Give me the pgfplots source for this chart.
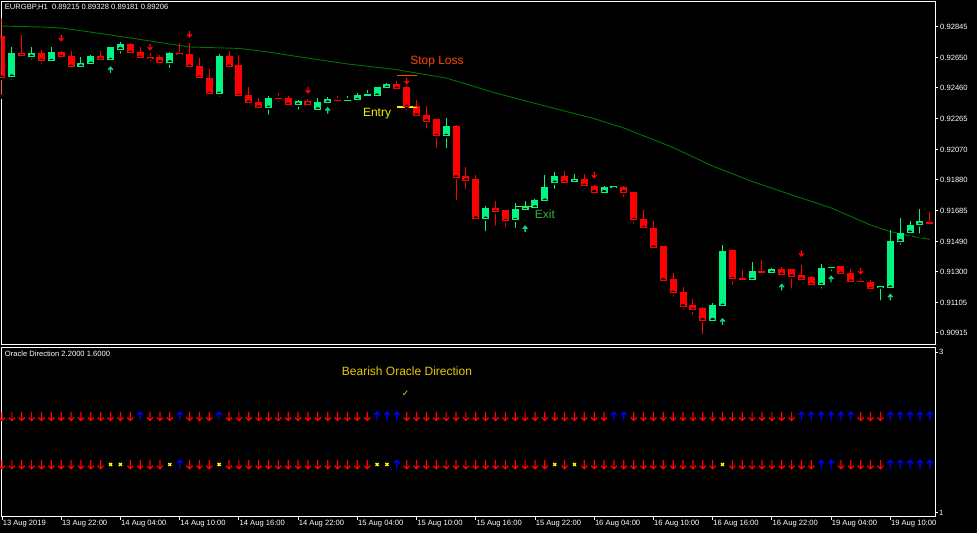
\documentclass[border=0pt]{standalone}
\usepackage{fontspec}
\setmainfont{Liberation Sans}
\newfontfamily\dejavu{DejaVu Sans}
\usepackage{pgfplots}
\usepackage{pgfplotstable}
\pgfplotsset{compat=1.18}

\definecolor{cgreen}{RGB}{0,245,130}
\definecolor{cred}{RGB}{255,0,0}
\definecolor{cma}{RGB}{0,115,0}
\definecolor{cupar}{RGB}{20,215,135}
\definecolor{cstop}{RGB}{255,69,0}
\definecolor{centry}{RGB}{245,240,0}
\definecolor{cexit}{RGB}{55,180,55}
\definecolor{cexitl}{RGB}{80,230,80}
\definecolor{cbear}{RGB}{230,200,0}
\definecolor{cblue}{RGB}{0,0,255}
\definecolor{cyel}{RGB}{255,255,0}

\pgfdeclareplotmark{tdn}{%
 \pgfsetlinewidth{1.3pt}%
 \pgfpathmoveto{\pgfqpoint{0pt}{3pt}}\pgfpathlineto{\pgfqpoint{0pt}{-2.6pt}}%
 \pgfpathmoveto{\pgfqpoint{-2.3pt}{-0.2pt}}\pgfpathlineto{\pgfqpoint{0pt}{-2.8pt}}\pgfpathlineto{\pgfqpoint{2.3pt}{-0.2pt}}%
 \pgfusepathqstroke}
\pgfdeclareplotmark{tup}{%
 \pgfsetlinewidth{1.3pt}%
 \pgfpathmoveto{\pgfqpoint{0pt}{-3pt}}\pgfpathlineto{\pgfqpoint{0pt}{2.6pt}}%
 \pgfpathmoveto{\pgfqpoint{-2.3pt}{0.2pt}}\pgfpathlineto{\pgfqpoint{0pt}{2.8pt}}\pgfpathlineto{\pgfqpoint{2.3pt}{0.2pt}}%
 \pgfusepathqstroke}
\pgfdeclareplotmark{ldn}{%
 \pgfsetlinewidth{1.2pt}%
 \pgfpathmoveto{\pgfqpoint{0pt}{4.3pt}}\pgfpathlineto{\pgfqpoint{0pt}{-4.1pt}}%
 \pgfpathmoveto{\pgfqpoint{-3pt}{-1.2pt}}\pgfpathlineto{\pgfqpoint{0pt}{-4.3pt}}\pgfpathlineto{\pgfqpoint{3pt}{-1.2pt}}%
 \pgfusepathqstroke}
\pgfdeclareplotmark{lup}{%
 \pgfsetlinewidth{1.2pt}%
 \pgfpathmoveto{\pgfqpoint{0pt}{-4.3pt}}\pgfpathlineto{\pgfqpoint{0pt}{4.1pt}}%
 \pgfpathmoveto{\pgfqpoint{-3pt}{1.2pt}}\pgfpathlineto{\pgfqpoint{0pt}{4.3pt}}\pgfpathlineto{\pgfqpoint{3pt}{1.2pt}}%
 \pgfusepathqstroke}

% red (bearish) candles: bar index, open, high, low, close
\pgfplotstableread{
x o h l c
0 0.92786 0.92900 0.92402 0.92523
2 0.92679 0.92793 0.92652 0.92662
4 0.92679 0.92698 0.92593 0.92631
6 0.92685 0.92692 0.92649 0.92654
7 0.92654 0.92694 0.92591 0.92593
10 0.92654 0.92692 0.92633 0.92637
13 0.92730 0.92740 0.92665 0.92681
14 0.92684 0.92715 0.92624 0.92649
15 0.92650 0.92677 0.92614 0.92649
16 0.92649 0.92667 0.92593 0.92622
18 0.92674 0.92740 0.92665 0.92673
19 0.92671 0.92744 0.92580 0.92593
20 0.92593 0.92649 0.92503 0.92523
21 0.92520 0.92578 0.92414 0.92422
23 0.92654 0.92692 0.92572 0.92593
24 0.92599 0.92665 0.92400 0.92408
25 0.92410 0.92467 0.92362 0.92366
26 0.92370 0.92393 0.92309 0.92337
28 0.92394 0.92425 0.92359 0.92393
29 0.92389 0.92410 0.92337 0.92353
31 0.92372 0.92387 0.92340 0.92356
34 0.92382 0.92406 0.92366 0.92381
40 0.92479 0.92501 0.92452 0.92454
41 0.92460 0.92471 0.92303 0.92340
42 0.92340 0.92383 0.92261 0.92286
43 0.92288 0.92347 0.92189 0.92250
44 0.92257 0.92261 0.92067 0.92156
46 0.92216 0.92225 0.91739 0.91895
47 0.91901 0.91962 0.91809 0.91878
48 0.91880 0.91910 0.91615 0.91637
50 0.91697 0.91748 0.91577 0.91678
51 0.91683 0.91683 0.91567 0.91620
57 0.91899 0.91935 0.91853 0.91861
59 0.91880 0.91916 0.91811 0.91842
60 0.91840 0.91847 0.91801 0.91802
63 0.91832 0.91840 0.91758 0.91801
64 0.91802 0.91802 0.91588 0.91626
65 0.91632 0.91689 0.91556 0.91577
66 0.91575 0.91620 0.91432 0.91454
67 0.91456 0.91456 0.91241 0.91247
68 0.91252 0.91290 0.91128 0.91167
69 0.91170 0.91203 0.91048 0.91083
70 0.91088 0.91128 0.91016 0.91060
71 0.91065 0.91079 0.90894 0.90995
74 0.91435 0.91437 0.91205 0.91254
75 0.91260 0.91311 0.91230 0.91249
77 0.91302 0.91374 0.91290 0.91293
79 0.91313 0.91328 0.91268 0.91281
80 0.91313 0.91313 0.91180 0.91271
81 0.91273 0.91342 0.91247 0.91249
82 0.91262 0.91273 0.91199 0.91216
85 0.91331 0.91336 0.91264 0.91287
86 0.91290 0.91315 0.91230 0.91237
87 0.91238 0.91258 0.91210 0.91237
88 0.91230 0.91247 0.91159 0.91191
94 0.91613 0.91676 0.91577 0.91605
}\redc

% green (bullish) candles
\pgfplotstableread{
x o h l c
1 0.92530 0.92715 0.92498 0.92679
3 0.92656 0.92715 0.92624 0.92679
5 0.92629 0.92715 0.92618 0.92685
8 0.92593 0.92654 0.92591 0.92616
9 0.92612 0.92665 0.92608 0.92654
11 0.92635 0.92715 0.92614 0.92713
12 0.92704 0.92749 0.92662 0.92730
17 0.92620 0.92685 0.92572 0.92679
22 0.92422 0.92673 0.92391 0.92654
27 0.92334 0.92408 0.92277 0.92389
30 0.92353 0.92383 0.92309 0.92372
32 0.92324 0.92393 0.92315 0.92368
33 0.92366 0.92400 0.92357 0.92387
35 0.92381 0.92406 0.92366 0.92382
36 0.92383 0.92427 0.92368 0.92408
37 0.92414 0.92446 0.92393 0.92415
38 0.92410 0.92463 0.92408 0.92460
39 0.92460 0.92488 0.92441 0.92479
45 0.92156 0.92267 0.92067 0.92217
49 0.91634 0.91714 0.91542 0.91700
52 0.91626 0.91735 0.91563 0.91689
53 0.91689 0.91746 0.91668 0.91706
54 0.91706 0.91758 0.91700 0.91748
55 0.91748 0.91910 0.91741 0.91830
56 0.91861 0.91930 0.91809 0.91901
58 0.91866 0.91916 0.91857 0.91880
61 0.91802 0.91840 0.91790 0.91832
62 0.91835 0.91840 0.91811 0.91836
72 0.90995 0.91100 0.90984 0.91088
73 0.91085 0.91468 0.91075 0.91430
76 0.91249 0.91361 0.91247 0.91302
78 0.91292 0.91323 0.91268 0.91313
83 0.91216 0.91348 0.91180 0.91323
84 0.91327 0.91336 0.91290 0.91328
89 0.91205 0.91206 0.91107 0.91206
90 0.91199 0.91563 0.91199 0.91493
91 0.91493 0.91637 0.91457 0.91542
92 0.91546 0.91621 0.91517 0.91594
93 0.91596 0.91695 0.91527 0.91618
}\greenc

% Oracle Direction states: 0 = down (red), 1 = up (blue), 2 = neutral (yellow x)
\pgfplotstableread{
i top bot
0 0 0
1 0 0
2 0 0
3 0 0
4 0 0
5 0 0
6 0 0
7 0 0
8 0 0
9 0 0
10 0 0
11 0 2
12 0 2
13 0 0
14 1 0
15 0 0
16 0 0
17 0 2
18 1 1
19 0 0
20 0 0
21 0 0
22 1 2
23 0 0
24 0 0
25 0 0
26 0 0
27 0 0
28 0 0
29 0 0
30 0 0
31 0 0
32 0 0
33 0 0
34 0 0
35 0 0
36 0 0
37 0 0
38 1 2
39 1 2
40 1 1
41 0 0
42 0 0
43 0 0
44 0 0
45 0 0
46 0 0
47 0 0
48 0 0
49 0 0
50 0 0
51 0 0
52 0 0
53 0 0
54 0 0
55 0 0
56 0 2
57 0 0
58 0 2
59 0 0
60 0 0
61 0 0
62 1 0
63 1 0
64 0 0
65 0 0
66 0 0
67 0 0
68 0 0
69 0 0
70 0 0
71 0 0
72 0 0
73 0 2
74 0 0
75 0 0
76 0 0
77 0 0
78 0 0
79 0 0
80 0 0
81 1 0
82 1 0
83 1 1
84 1 1
85 1 0
86 1 0
87 0 0
88 0 0
89 0 0
90 1 1
91 1 1
92 1 1
93 1 1
94 1 1
}\oracle

\begin{document}
\begin{tikzpicture}[x=1pt,y=1pt]
\fill[black] (0,0) rectangle (977,533);

\begin{axis}[
  at={(1.5pt,188pt)}, anchor=south west, scale only axis,
  width=933.8pt, height=343.5pt,
  xmin=-0.05, xmax=94.56, ymin=0.908375, ymax=0.930039,
  axis line style={white, line width=1pt},
  xtick=\empty,
  ytick={0.90915,0.91105,0.91300,0.91490,0.91685,0.91880,0.92070,0.92265,0.92460,0.92650,0.92845},
  yticklabels={0.90915,0.91105,0.91300,0.91490,0.91685,0.91880,0.92070,0.92265,0.92460,0.92650,0.92845},
  ytick pos=right, yticklabel pos=right, tick align=outside, major tick length=3pt,
  tick style={white, line width=0.8pt},
  yticklabel style={font=\fontsize{7.6}{8}\selectfont, text=white, anchor=west, inner sep=0pt, xshift=1.7pt},
]
% moving average
\addplot[cma, line width=0.9pt] coordinates {
(0,0.92849)(4,0.92843)(6,0.92837)(10,0.92802)(15,0.92755)(19,0.92717)(24,0.92708)
(27,0.92685)(30,0.92656)(35,0.92610)(40,0.92574)(45,0.92521)(50,0.92427)(55,0.92345)
(60,0.92265)(63,0.92206)(68,0.92083)(72,0.91966)(76,0.91869)(80,0.91784)(84,0.91702)
(88,0.91594)(90,0.91553)(92,0.91525)(94,0.91504)};
% wicks
\addplot[only marks, mark=none, error bars/.cd, y dir=plus, y explicit, error mark=none,
  error bar style={draw=cred, line width=1pt}]
  table[x=x, y=l, y error plus expr=\thisrow{h}-\thisrow{l}] {\redc};
\addplot[only marks, mark=none, error bars/.cd, y dir=plus, y explicit, error mark=none,
  error bar style={draw=cgreen, line width=1pt}]
  table[x=x, y=l, y error plus expr=\thisrow{h}-\thisrow{l}] {\greenc};
% bodies
\addplot[only marks, mark=none, error bars/.cd, y dir=plus, y explicit, error mark=none,
  error bar style={draw=cred, line width=7pt}]
  table[x=x, y=c, y error plus expr=\thisrow{o}-\thisrow{c}] {\redc};
\addplot[only marks, mark=none, error bars/.cd, y dir=plus, y explicit, error mark=none,
  error bar style={draw=cgreen, line width=7pt}]
  table[x=x, y=o, y error plus expr=\thisrow{c}-\thisrow{o}] {\greenc};
% open/close edges (visible for doji)
\addplot[only marks, mark=-, mark size=3.5pt, cred, mark options={line width=1pt}] table[x=x, y=o] {\redc};
\addplot[only marks, mark=-, mark size=3.5pt, cred, mark options={line width=1pt}] table[x=x, y=c] {\redc};
\addplot[only marks, mark=-, mark size=3.5pt, cgreen, mark options={line width=1pt}] table[x=x, y=o] {\greenc};
\addplot[only marks, mark=-, mark size=3.5pt, cgreen, mark options={line width=1pt}] table[x=x, y=c] {\greenc};
% signal arrows
\addplot[only marks, mark=tdn, cred] coordinates {
(6,0.92774)(15,0.92717)(19,0.92799)(31,0.92446)(41,0.92504)(60,0.91910)(81,0.91416)(87,0.91304)};
\addplot[only marks, mark=tup, cupar] coordinates {
(11,0.92572)(33,0.92315)(53,0.91569)(73,0.90984)(79,0.91201)(84,0.91252)(90,0.91138)};
% trade levels
\addplot[cstop, line width=1.6pt] coordinates {(39.99,0.92536)(42.05,0.92536)};
\addplot[centry, line width=1.6pt] coordinates {(39.99,0.92340)(42.05,0.92340)};
\addplot[cexitl, line width=1.6pt] coordinates {(52.05,0.91710)(54.1,0.91710)};
\node[text=cstop, font=\fontsize{12}{14}\selectfont] at (axis cs:44.07,0.92624) {Stop Loss};
\node[text=centry, font=\fontsize{12}{14}\selectfont] at (axis cs:38.0,0.92299) {Entry};
\node[text=cexit, font=\fontsize{12}{14}\selectfont] at (axis cs:55.0,0.91662) {Exit};
\end{axis}

\begin{axis}[
  at={(1.5pt,16.3pt)}, anchor=south west, scale only axis,
  width=933.8pt, height=169.7pt,
  xmin=-0.05, xmax=94.56, ymin=0.950, ymax=3.062,
  axis line style={white, line width=1pt},
  xtick={0,6,12,18,24,30,36,42,48,54,60,66,72,78,84,90},
  xticklabels={13 Aug 2019,13 Aug 22:00,14 Aug 04:00,14 Aug 10:00,14 Aug 16:00,14 Aug 22:00,15 Aug 04:00,15 Aug 10:00,15 Aug 16:00,15 Aug 22:00,16 Aug 04:00,16 Aug 10:00,16 Aug 16:00,16 Aug 22:00,19 Aug 04:00,19 Aug 10:00},
  ytick={1,3}, yticklabels={1,3},
  xtick pos=bottom, xticklabel pos=bottom, ytick pos=right, yticklabel pos=right,
  tick align=outside, major tick length=3pt,
  tick style={white, line width=0.8pt},
  xticklabel style={font=\fontsize{7.6}{8}\selectfont, text=white, anchor=north west, inner sep=0pt, xshift=0.6pt},
  yticklabel style={font=\fontsize{7.6}{8}\selectfont, text=white, anchor=west, inner sep=0pt, xshift=0.5pt},
]
\addplot[only marks, mark=ldn, cred, restrict expr to domain={\thisrow{top}}{-0.5:0.5}] table[x=i, y expr=2.2] {\oracle};
\addplot[only marks, mark=lup, cblue, restrict expr to domain={\thisrow{top}}{0.5:1.5}] table[x=i, y expr=2.2] {\oracle};
\addplot[only marks, mark=ldn, cred, restrict expr to domain={\thisrow{bot}}{-0.5:0.5}] table[x=i, y expr=1.6] {\oracle};
\addplot[only marks, mark=lup, cblue, restrict expr to domain={\thisrow{bot}}{0.5:1.5}] table[x=i, y expr=1.6] {\oracle};
\addplot[only marks, mark=x, mark size=2.1pt, cyel, mark options={line width=1.3pt}, restrict expr to domain={\thisrow{bot}}{1.5:2.5}] table[x=i, y expr=1.6] {\oracle};
\node[text=cbear, font=\fontsize{12}{14}\selectfont] at (axis cs:41.03,2.755) {Bearish Oracle Direction};
\node[text=cbear, font=\dejavu\fontsize{9}{9}\selectfont] at (axis cs:40.9,2.486) {✓};
\end{axis}

\node[anchor=west, inner sep=0pt, text=white, font=\fontsize{7.6}{8}\selectfont] at (4.7,525.7) {EURGBP,H1\ \ 0.89215 0.89328 0.89181 0.89206};
\node[anchor=west, inner sep=0pt, text=white, font=\fontsize{7.6}{8}\selectfont] at (4.7,179.7) {Oracle Direction 2.2000 1.6000};

\pgfresetboundingbox
\useasboundingbox (0,0) rectangle (977,533);
\end{tikzpicture}
\end{document}
